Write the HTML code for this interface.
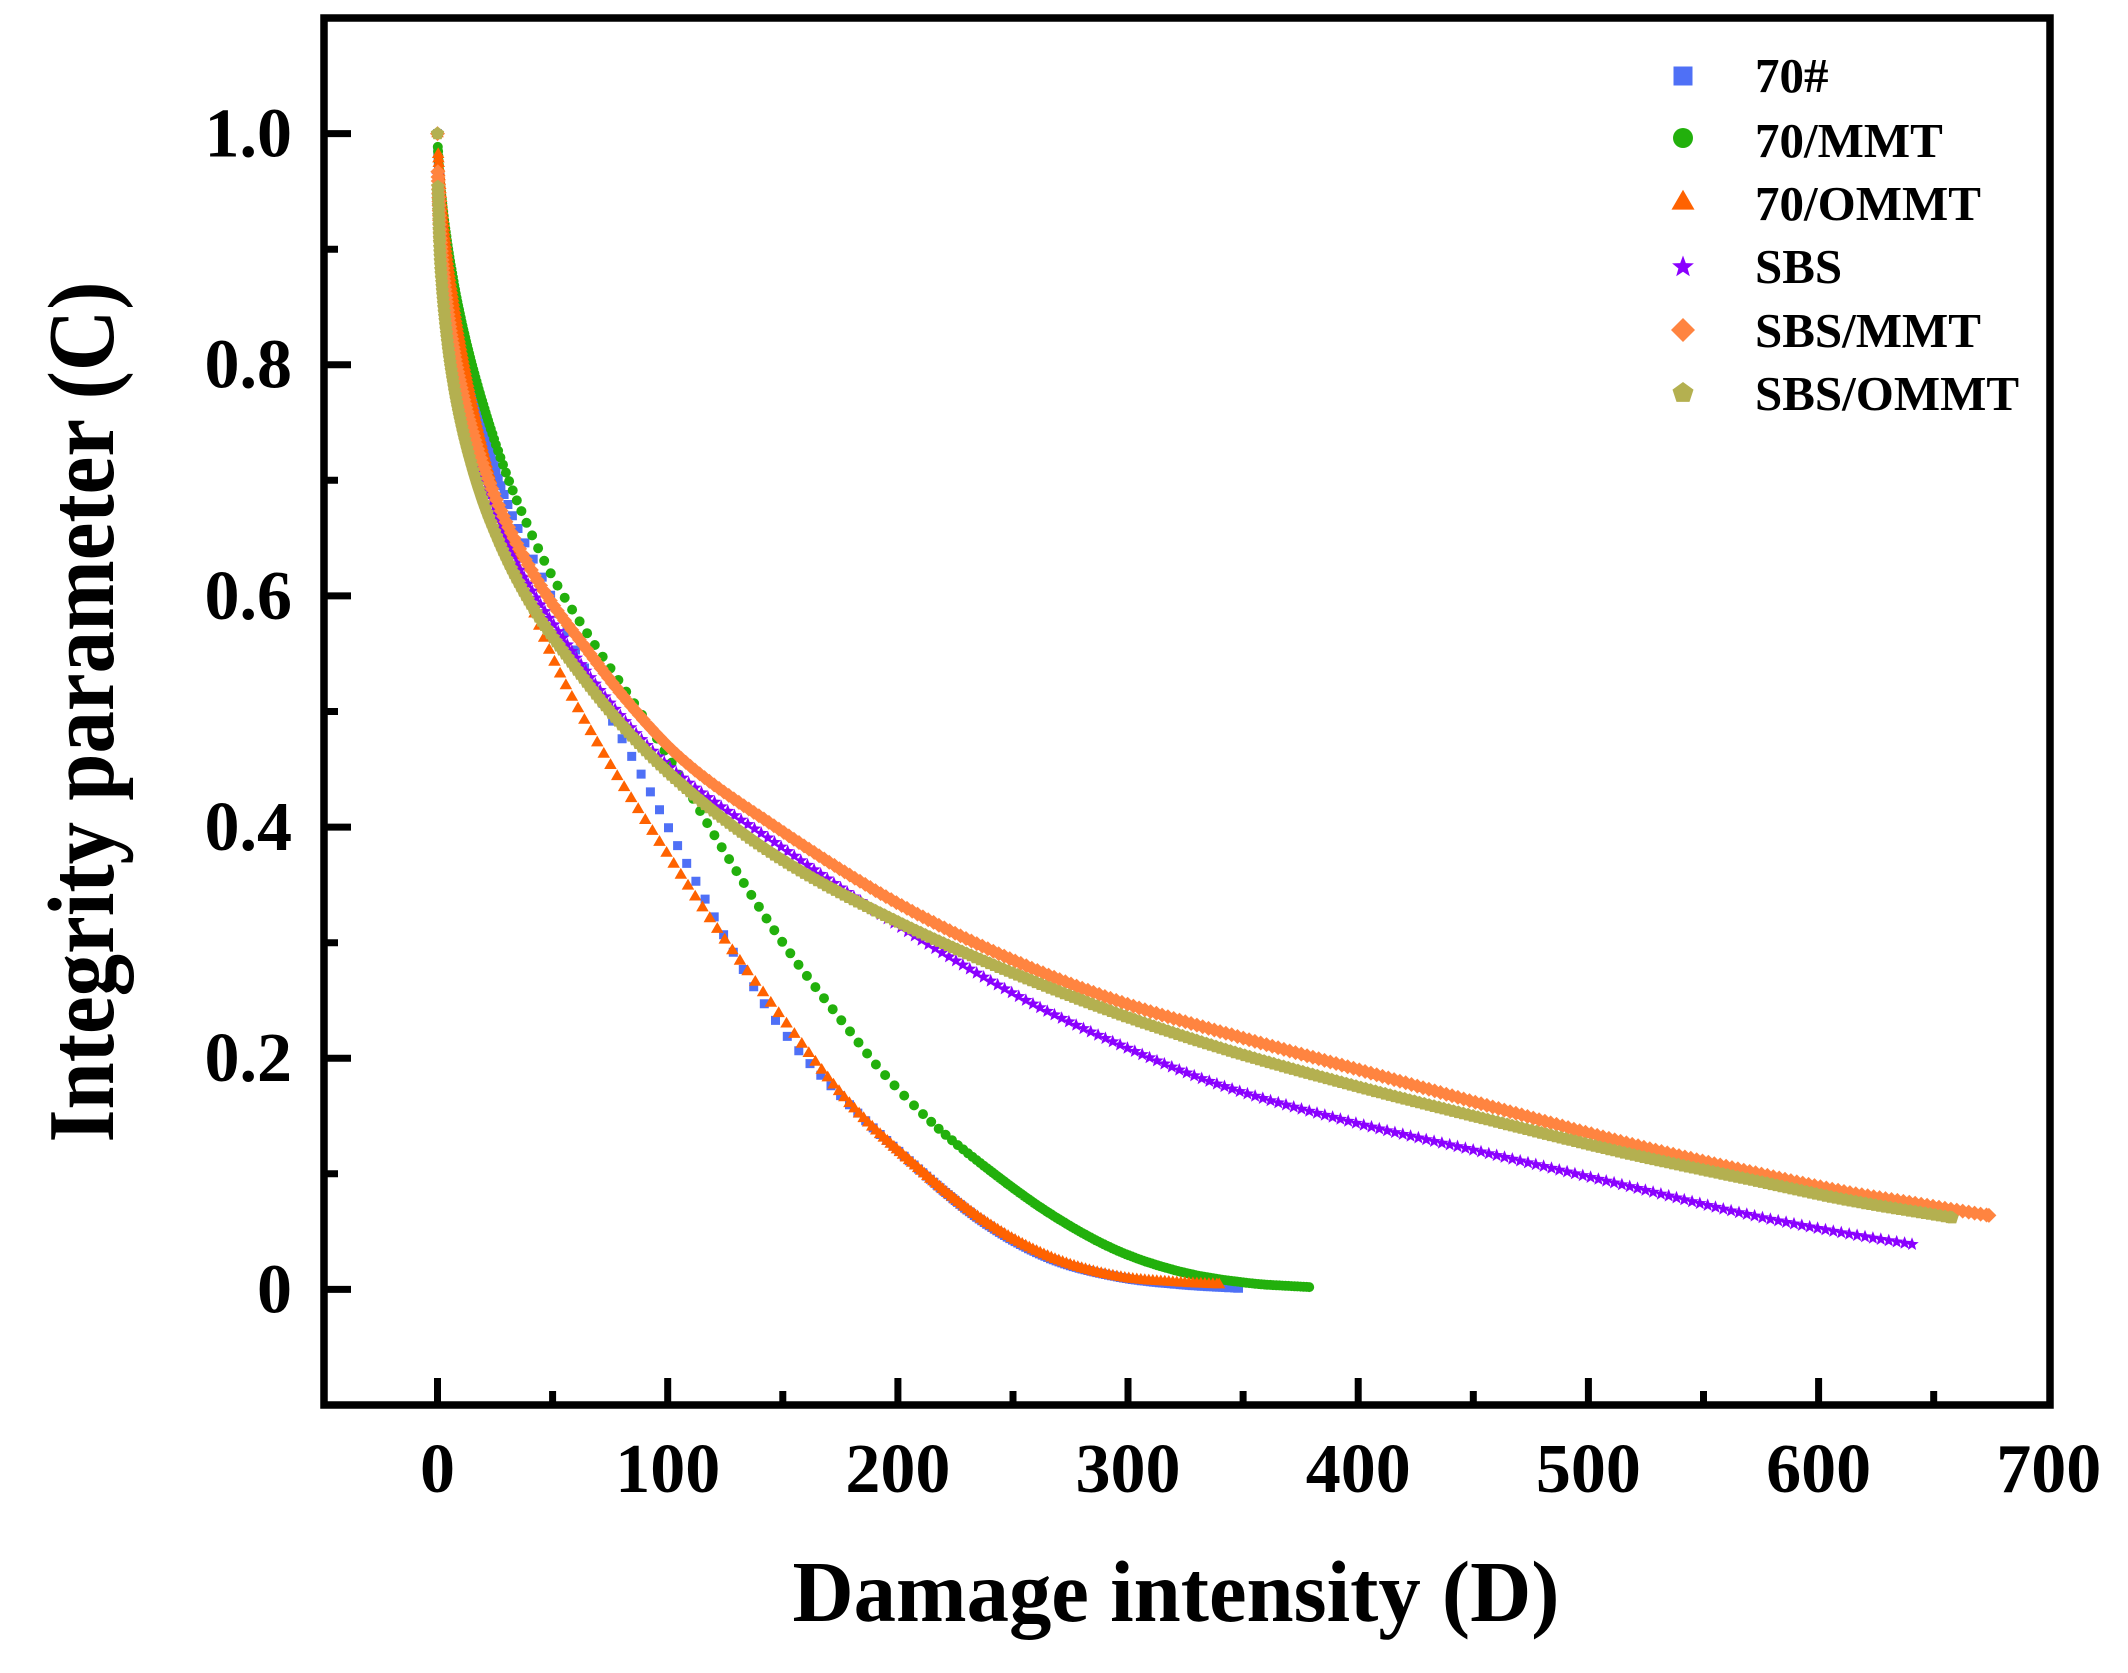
<!DOCTYPE html>
<html><head><meta charset="utf-8">
<style>
html,body{margin:0;padding:0;background:#fff;}
svg{display:block;}
text{font-family:"Liberation Serif","Times New Roman",serif;font-weight:bold;fill:#000;}
</style></head>
<body>
<svg id="chart" width="2128" height="1673" viewBox="0 0 2128 1673" xmlns="http://www.w3.org/2000/svg">
<rect width="2128" height="1673" fill="#fff"/>
<g id="data"></g>
<path id="ticks" fill="none" stroke="#000" stroke-width="7"/>
<rect x="324" y="18" width="1726" height="1387" fill="none" stroke="#000" stroke-width="7.5"/>

<g font-size="70" text-anchor="end">
<text x="292" y="1312.4">0</text>
<text x="292" y="1081.2">0.2</text>
<text x="292" y="850.1">0.4</text>
<text x="292" y="618.9">0.6</text>
<text x="292" y="387.7">0.8</text>
<text x="292" y="156.6">1.0</text>
</g>
<g font-size="70" text-anchor="middle">
<text x="437.5" y="1492">0</text>
<text x="667.7" y="1492">100</text>
<text x="897.9" y="1492">200</text>
<text x="1128" y="1492">300</text>
<text x="1358.2" y="1492">400</text>
<text x="1588.4" y="1492">500</text>
<text x="1818.6" y="1492">600</text>
<text x="2048.8" y="1492">700</text>
</g>

<text x="1176" y="1621" font-size="87" text-anchor="middle" textLength="767" lengthAdjust="spacingAndGlyphs">Damage intensity (D)</text>
<text x="113" y="712" font-size="94" text-anchor="middle" transform="rotate(-90 113 712)" textLength="861" lengthAdjust="spacingAndGlyphs">Integrity parameter (C)</text>

<g id="legendMarkers"></g>
<g font-size="49">
<text x="1755" y="92">70#</text>
<text x="1755" y="157">70/MMT</text>
<text x="1755" y="220">70/OMMT</text>
<text x="1755" y="283">SBS</text>
<text x="1755" y="347">SBS/MMT</text>
<text x="1755" y="410">SBS/OMMT</text>
</g>
</svg>
<script>
(function(){
var X=function(D){return 437.5+2.3018*D;};
var Y=function(C){return 1289.4-1155.8*C;};
function f(v){return Math.round(v*10)/10;}
function sq(x,y,s){var h=s/2;return "M"+f(x-h)+","+f(y-h)+"h"+s+"v"+s+"h"+(-s)+"z";}
function circ(x,y,r){return "M"+f(x-r)+","+f(y)+"a"+r+","+r+" 0 1,0 "+(2*r)+",0a"+r+","+r+" 0 1,0 "+(-2*r)+",0z";}
function tri(x,y,s){var h=s*0.866;return "M"+f(x)+","+f(y-2*h/3)+"L"+f(x+s/2)+","+f(y+h/3)+"L"+f(x-s/2)+","+f(y+h/3)+"z";}
function star(x,y,R,r){var d="";for(var i=0;i<10;i++){var a=-Math.PI/2+i*Math.PI/5;var rr=(i%2==0)?R:r;d+=(i==0?"M":"L")+f(x+rr*Math.cos(a))+","+f(y+rr*Math.sin(a));}return d+"z";}
function dia(x,y,h){return "M"+f(x)+","+f(y-h)+"L"+f(x+h)+","+f(y)+"L"+f(x)+","+f(y+h)+"L"+f(x-h)+","+f(y)+"z";}
function pent(x,y,r){var d="";for(var i=0;i<5;i++){var a=-Math.PI/2+i*2*Math.PI/5;d+=(i==0?"M":"L")+f(x+r*Math.cos(a))+","+f(y+r*Math.sin(a));}return d+"z";}
function lerp(a,b,t){return a+(b-a)*t;}
function spf(c1,c2,c3,c4,st,sm,sb){return function(C){
 if(C>=c1)return st;
 if(C>=c2)return lerp(sm,st,(C-c2)/(c1-c2));
 if(C>=c3)return sm;
 if(C>=c4)return lerp(sb,sm,(C-c4)/(c3-c4));
 return sb;};}
function mono(pts){
 var n=pts.length,xs=[],ys=[],d=[],m=[];
 for(var i=0;i<n;i++){xs.push(pts[i][0]);ys.push(pts[i][1]);}
 for(i=0;i<n-1;i++)d.push((ys[i+1]-ys[i])/(xs[i+1]-xs[i]));
 m[0]=d[0];m[n-1]=d[n-2];
 for(i=1;i<n-1;i++){m[i]=(d[i-1]*d[i]<=0)?0:(d[i-1]+d[i])/2;}
 for(i=0;i<n-1;i++){
  if(d[i]==0){m[i]=0;m[i+1]=0;continue;}
  var a=m[i]/d[i],b=m[i+1]/d[i],s=a*a+b*b;
  if(s>9){var t=3/Math.sqrt(s);m[i]=t*a*d[i];m[i+1]=t*b*d[i];}
 }
 return function(x){
  var k=0;while(k<n-2&&x>xs[k+1])k++;
  var h=xs[k+1]-xs[k],t=(x-xs[k])/h,t2=t*t,t3=t2*t;
  return (2*t3-3*t2+1)*ys[k]+(t3-2*t2+t)*h*m[k]+(-2*t3+3*t2)*ys[k+1]+(t3-t2)*h*m[k+1];
 };
}
var series=[
 {col:"#4f70f6",mk:function(x,y){return sq(x,y,9);},lg:function(x,y){return sq(x,y,19);},one:true,
  sp:spf(0.72,0.62,0.22,0.08,4,20,3),
  pts:[[0.15,0.984],[1,0.951],[2,0.927],[4,0.892],[7,0.852],[11,0.811],[16,0.769],[22,0.728],[32,0.672],[46.5,0.612],[60,0.553],[76,0.492],[90,0.44],[102,0.393],[111,0.358],[129,0.29],[150,0.224],[178.9,0.160],[208,0.106],[236.7,0.059],[265.8,0.027],[294.9,0.011],[323.5,0.004],[348,0.001]]},
 {col:"#22b00c",mk:function(x,y){return circ(x,y,5);},lg:function(x,y){return circ(x,y,10);},one:false,
  sp:spf(0.75,0.65,0.16,0.10,4,14,3),
  pts:[[0.15,0.9885],[1,0.9616],[2,0.9407],[4,0.909],[7,0.872],[10.3,0.839],[15,0.800],[21.8,0.753],[28,0.716],[34.4,0.683],[48,0.624],[63,0.574],[79,0.526],[90.8,0.491],[105,0.445],[120.3,0.393],[150,0.30],[178.9,0.224],[193.3,0.188],[215,0.144],[236.7,0.108],[265.8,0.066],[294.9,0.034],[323.5,0.015],[352.6,0.0055],[378.7,0.002]]},
 {col:"#ff6200",mk:function(x,y){return tri(x,y,12.5);},lg:function(x,y){return tri(x,y,23);},one:true,
  sp:spf(0.72,0.60,0.22,0.12,4,13,4),
  pts:[[0.3,0.982],[1,0.96],[2,0.936],[4,0.899],[7,0.856],[10,0.819],[15,0.768],[20,0.725],[27,0.674],[35,0.624],[43,0.58],[51.7,0.539],[71.7,0.465],[96.4,0.387],[120,0.316],[150,0.234],[178.9,0.161],[208,0.106],[236.7,0.060],[265.8,0.028],[294.9,0.011],[323.5,0.0055],[339.6,0.004]]},
 {col:"#8a00ff",mk:function(x,y){return star(x,y,7,3);},lg:function(x,y){return star(x,y,11.5,4.8);},one:false,
  sp:spf(0.75,0.68,-1,-2,4,8,8),
  pts:[[0.15,0.964],[1,0.915],[2,0.884],[4,0.844],[7,0.802],[11,0.762],[16,0.723],[22.6,0.683],[30,0.646],[38,0.615],[57,0.556],[78,0.5],[100.8,0.452],[147,0.386],[200,0.315],[255.8,0.250],[294.9,0.213],[338.3,0.178],[394.8,0.146],[460,0.116],[518,0.089],[570,0.0645],[613,0.048],[640.6,0.039]]},
 {col:"#ff8440",mk:function(x,y){return dia(x,y,7.5);},lg:function(x,y){return dia(x,y,12);},one:true,
  sp:spf(0.75,0.68,-1,-2,4,6,6),
  pts:[[0.15,0.967],[1,0.920],[2,0.891],[4,0.853],[7,0.813],[11,0.774],[17,0.730],[25.6,0.683],[32,0.655],[40,0.625],[50,0.593],[61.7,0.562],[82,0.51],[105,0.461],[147,0.400],[200,0.334],[250,0.285],[294.9,0.250],[352.6,0.216],[394.8,0.193],[460,0.157],[518,0.126],[570,0.102],[613,0.084],[642,0.0745],[674,0.064]]},
 {col:"#b4b050",mk:function(x,y){return pent(x,y,7);},lg:function(x,y){return pent(x,y,11);},one:true,
  sp:spf(0.75,0.68,-1,-2,4,5,5),
  pts:[[0.15,0.954],[1,0.899],[2,0.867],[4,0.825],[7,0.7825],[11,0.7424],[15,0.7116],[19.5,0.683],[26,0.65],[33,0.620],[43,0.585],[54.3,0.553],[75,0.5],[97.7,0.452],[141,0.383],[200,0.318],[280,0.250],[338.3,0.210],[394.8,0.178],[460,0.145],[518,0.117],[570,0.095],[613,0.077],[658,0.062]]}
];
var NS="http://www.w3.org/2000/svg";
var g=document.getElementById("data");
var lg=document.getElementById("legendMarkers");
var legY=[76,138,203,267,330,393];
series.forEach(function(s,idx){
 var fn=mono(s.pts);
 var D0=s.pts[0][0];
 var Dmax=s.pts[s.pts.length-1][0];
 var d="";
 if(s.one)d+=s.mk(X(0),Y(1.0));
 var px=X(D0),py=Y(fn(D0));
 d+=s.mk(px,py);
 var acc=0,lx=px,ly=py;
 for(var D=D0+0.02;D<=Dmax+1e-9;D+=0.02){
  var C=fn(D),x=X(D),y=Y(C);
  acc+=Math.sqrt((x-lx)*(x-lx)+(y-ly)*(y-ly));
  lx=x;ly=y;
  if(acc>=s.sp(C)){d+=s.mk(x,y);acc=0;}
 }
 d+=s.mk(X(Dmax),Y(fn(Dmax)));
 var p=document.createElementNS(NS,"path");
 p.setAttribute("d",d);p.setAttribute("fill",s.col);
 g.appendChild(p);
 var q=document.createElementNS(NS,"path");
 q.setAttribute("d",s.lg(1683,legY[idx]));q.setAttribute("fill",s.col);
 lg.appendChild(q);
});
var t="";
[0,0.2,0.4,0.6,0.8,1.0].forEach(function(c){var y=f(Y(c));t+="M324,"+y+"H351";});
[0.1,0.3,0.5,0.7,0.9].forEach(function(c){var y=f(Y(c));t+="M324,"+y+"H338";});
[0,100,200,300,400,500,600].forEach(function(v){var x=f(X(v));t+="M"+x+",1405V1378";});
[50,150,250,350,450,550,650].forEach(function(v){var x=f(X(v));t+="M"+x+",1405V1391";});
document.getElementById("ticks").setAttribute("d",t);
})();
</script>
</body></html>
